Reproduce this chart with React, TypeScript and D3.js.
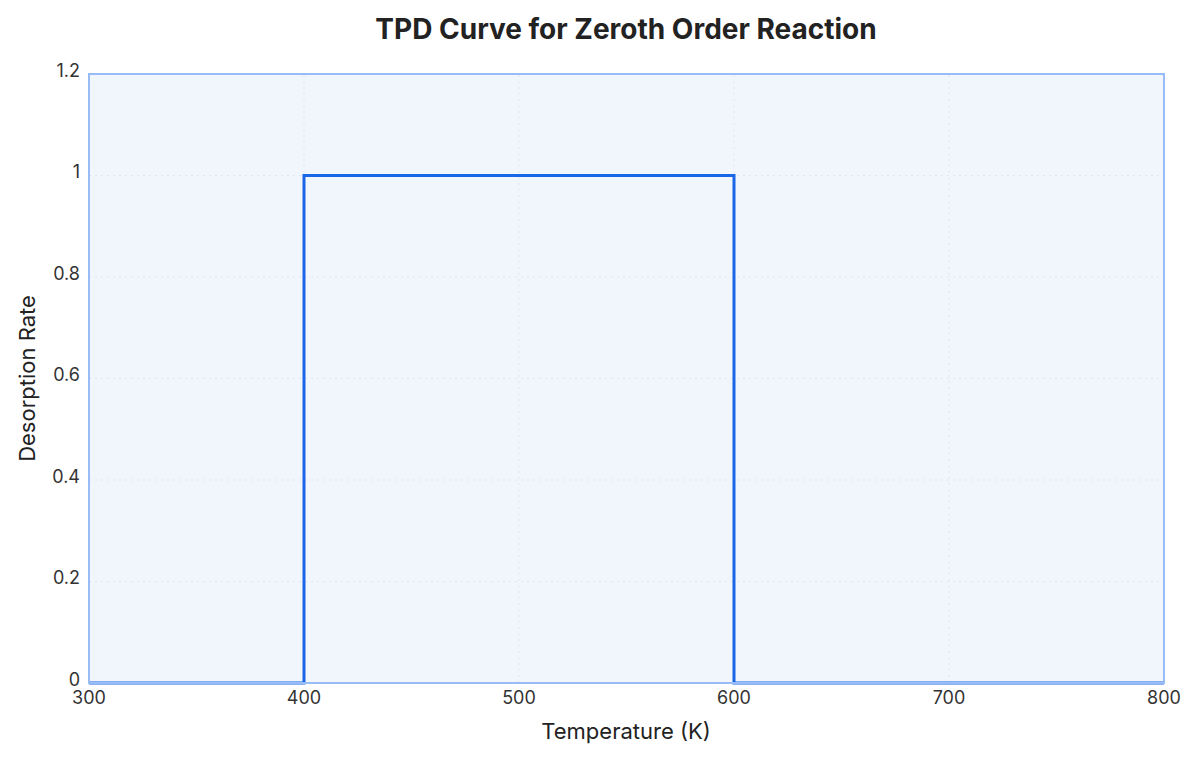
import { useEffect } from "react";
import * as d3 from "d3";

// step profile of the zeroth order desorption curve
const temperatures = [300, 400, 400, 600, 600, 800];
const rates = [0, 0, 1, 1, 0, 0];

const xTicks = [300, 400, 500, 600, 700, 800];
const yTicks = [0, 0.2, 0.4, 0.6, 0.8, 1, 1.2];

const width = 1200;
const height = 760;
const margin = { top: 74, right: 36, bottom: 77, left: 89 };
const font = "Inter, 'Open Sans', sans-serif";

export default function App() {
    useEffect(() => {
        document.body.style.margin = "0";
    }, []);

    const x = d3
        .scaleLinear()
        .domain([300, 800])
        .range([margin.left, width - margin.right]);
    const y = d3
        .scaleLinear()
        .domain([0, 1.2])
        .range([height - margin.bottom, margin.top]);

    const pts = temperatures.map((t, i) => [t, rates[i]] as [number, number]);
    const line = d3
        .line<[number, number]>()
        .x(d => x(d[0]))
        .y(d => y(d[1]));

    const innerW = x(800) - x(300);
    const innerH = y(0) - y(1.2);

    return (
        <svg width={width} height={height} style={{ display: "block", background: "#fff" }}>
            <text
                x={626}
                y={39}
                textAnchor="middle"
                fontFamily={font}
                fontWeight={700}
                fontSize={28}
                fill="#222"
            >
                TPD Curve for Zeroth Order Reaction
            </text>

            <rect x={x(300)} y={y(1.2)} width={innerW} height={innerH} fill="#f1f6fd" />

            {xTicks.slice(1, -1).map(t => (
                <line
                    key={"gx" + t}
                    x1={x(t)}
                    x2={x(t)}
                    y1={y(0)}
                    y2={y(1.2)}
                    stroke="#dfe6f2"
                    strokeWidth={1}
                    strokeDasharray="2,4"
                />
            ))}
            {yTicks.slice(1, -1).map(t => (
                <line
                    key={"gy" + t}
                    x1={x(300)}
                    x2={x(800)}
                    y1={y(t)}
                    y2={y(t)}
                    stroke="#dfe6f2"
                    strokeWidth={1}
                    strokeDasharray="2,4"
                />
            ))}

            <path d={line(pts) || ""} fill="none" stroke="#1a66e8" strokeWidth={3} strokeLinejoin="miter" />

            <rect
                x={x(300)}
                y={y(1.2)}
                width={innerW}
                height={innerH}
                fill="none"
                stroke="#98bdf6"
                strokeWidth={2}
            />

            {yTicks.map(t => (
                <text
                    key={"yt" + t}
                    x={x(300) - 9}
                    y={y(t)}
                    dy="0.15em"
                    textAnchor="end"
                    fontFamily={font}
                    fontSize={18}
                    fill="#333"
                >
                    {d3.format("~g")(t)}
                </text>
            ))}
            {xTicks.map(t => (
                <text
                    key={"xt" + t}
                    x={x(t)}
                    y={y(0) + 21}
                    textAnchor="middle"
                    fontFamily={font}
                    fontSize={18}
                    fill="#333"
                >
                    {t}
                </text>
            ))}

            <text
                x={626}
                y={739}
                textAnchor="middle"
                fontFamily={font}
                fontSize={22}
                fill="#222"
            >
                Temperature (K)
            </text>
            <text
                transform={`translate(35,${(y(0) + y(1.2)) / 2}) rotate(-90)`}
                textAnchor="middle"
                fontFamily={font}
                fontSize={22}
                fill="#222"
            >
                Desorption Rate
            </text>
        </svg>
    );
}
